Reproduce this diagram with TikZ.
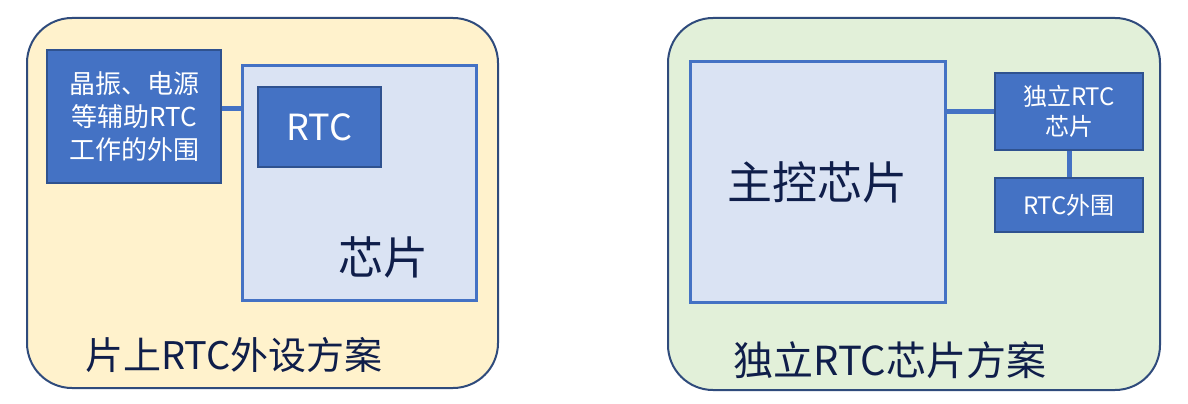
\documentclass[tikz,border=0pt]{standalone}
\usepackage{fontspec}
\setmainfont{Noto Sans CJK SC}
\definecolor{boxblue}{HTML}{4472C4}
\definecolor{boxedge}{HTML}{2F528F}
\definecolor{chipfill}{HTML}{DAE3F3}
\definecolor{yellowbg}{HTML}{FFF2CC}
\definecolor{greenbg}{HTML}{E2F0D9}
\definecolor{outeredge}{HTML}{2F4B7C}
\definecolor{navy}{HTML}{0F1E4A}
\begin{document}
\begin{tikzpicture}[x=1pt,y=-1pt,
  panel/.style={draw=outeredge,line width=2pt,rounded corners=45pt},
  darkbox/.style={draw=boxedge,fill=boxblue,line width=2.5pt,text=white,align=center,inner sep=0pt},
  chipbox/.style={draw=boxblue,fill=chipfill,line width=3pt},
  link/.style={draw=boxblue,line width=5pt}]
\useasboundingbox (0,0) rectangle (1188,404);
\fill[white] (0,0) rectangle (1188,404);
% left panel
\draw[panel,fill=yellowbg] (27,18) rectangle (498,388);
\node[chipbox,minimum width=234pt,minimum height=234pt,inner sep=0pt] (chip) at (359,183) {};
\node[darkbox,minimum width=174pt,minimum height=133pt,font=\fontsize{26}{33}\selectfont] (aux) at (134,116.5)
  {晶振、电源\\等辅助RTC\\工作的外围};
\node[darkbox,minimum width=123pt,minimum height=80pt,font=\fontsize{36}{40}\selectfont] (rtc) at (319.5,127)
  {RTC};
\coordinate (chipl) at (chip.west |- 0,108);
\draw[link] (aux.east |- chipl) -- (chipl);
\node[text=navy,inner sep=0pt,font=\fontsize{45}{50}\selectfont] (chiplabel) at (383,257) {芯片};
\node[text=navy,anchor=west,inner sep=0pt,font=\fontsize{38}{42}\selectfont] (leftlabel) at (85,355) {片上RTC外设方案};
% right panel
\draw[panel,fill=greenbg] (668,18) rectangle (1160,390);
\node[chipbox,minimum width=255pt,minimum height=240pt,inner sep=0pt,text=navy,font=\fontsize{45}{50}\selectfont] (main) at (817.5,182)
  {主控芯片};
\node[darkbox,minimum width=148pt,minimum height=77pt,font=\fontsize{24}{30}\selectfont] (ind) at (1069,111.5)
  {独立RTC\\芯片};
\node[darkbox,minimum width=148pt,minimum height=54pt,font=\fontsize{24}{28}\selectfont] (per) at (1069,205)
  {RTC外围};
\draw[link] (main.east |- ind.west) -- (ind.west);
\draw[link] (ind.south) -- (per.north);
\node[text=navy,anchor=west,inner sep=0pt,font=\fontsize{40}{44}\selectfont] (rightlabel) at (733,360) {独立RTC芯片方案};
\end{tikzpicture}
\end{document}
